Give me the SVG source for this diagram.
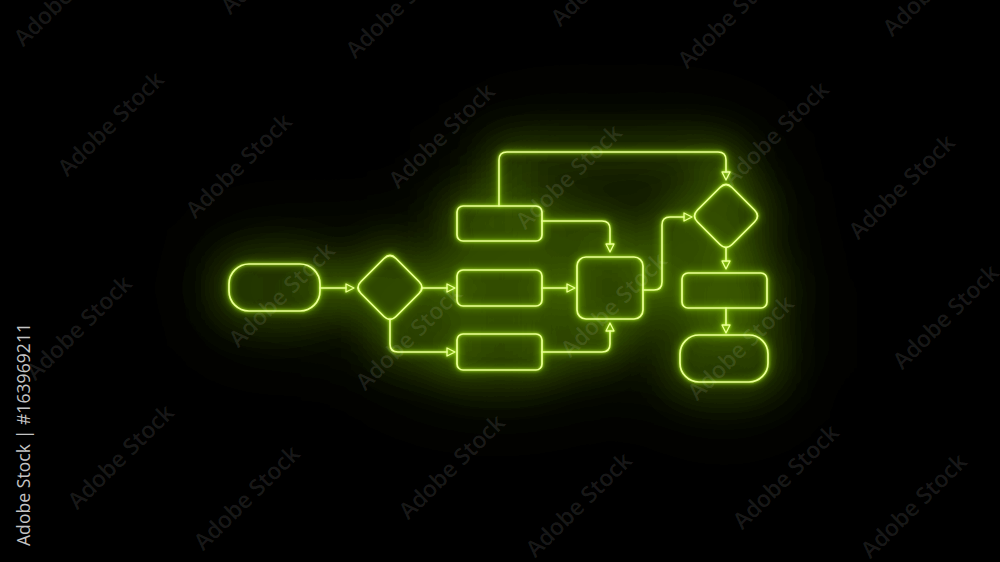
<svg xmlns="http://www.w3.org/2000/svg" width="1000" height="562" viewBox="0 0 1000 562">
  <defs>
    <style>
      .shape { fill: none; stroke: #eaff96; stroke-width: 1.7; stroke-linejoin: round; }
      .conn { fill: none; stroke: #eaff96; stroke-width: 1.6; stroke-linejoin: round; stroke-linecap: round; }
      .wm { font-family: "Open Sans", "Liberation Sans", sans-serif; font-weight: 600; font-size: 23px; fill: #ffffff; fill-opacity: 0.1; }
      .cap { font-family: "Open Sans", "Liberation Sans", sans-serif; font-size: 17.5px; fill: #c4c4c4; }
    </style>
    <marker id="arr" viewBox="-1 -1 10 10" refX="0" refY="4" markerWidth="10" markerHeight="10" markerUnits="userSpaceOnUse" orient="auto">
      <path d="M0,0 L8,4 L0,8 Z" fill="none" stroke="#eaff96" stroke-width="1.3" stroke-linejoin="round"/>
    </marker>
    <filter id="neon" filterUnits="userSpaceOnUse" x="0" y="0" width="1000" height="562" color-interpolation-filters="sRGB">
      <feGaussianBlur in="SourceAlpha" stdDeviation="45" result="f0"/>
      <feComponentTransfer in="f0" result="f1"><feFuncA type="linear" slope="7"/></feComponentTransfer>
      <feFlood flood-color="#3a5800"/>
      <feComposite in2="f1" operator="in" result="far"/>
      <feGaussianBlur in="SourceAlpha" stdDeviation="22" result="h0"/>
      <feComponentTransfer in="h0" result="h1"><feFuncA type="linear" slope="8"/></feComponentTransfer>
      <feFlood flood-color="#5e8e00"/>
      <feComposite in2="h1" operator="in" result="halo"/>
      <feGaussianBlur in="SourceAlpha" stdDeviation="4" result="m0"/>
      <feComponentTransfer in="m0" result="m1"><feFuncA type="linear" slope="1.8"/></feComponentTransfer>
      <feFlood flood-color="#8ad000"/>
      <feComposite in2="m1" operator="in" result="mid"/>
      <feGaussianBlur in="SourceAlpha" stdDeviation="1.6" result="t0"/>
      <feComponentTransfer in="t0" result="t1"><feFuncA type="linear" slope="1.2"/></feComponentTransfer>
      <feFlood flood-color="#b0ee20"/>
      <feComposite in2="t1" operator="in" result="tight"/>
      <feMerge>
        <feMergeNode in="far"/>
        <feMergeNode in="halo"/>
        <feMergeNode in="mid"/>
        <feMergeNode in="tight"/>
        <feMergeNode in="SourceGraphic"/>
      </feMerge>
    </filter>
  </defs>

  <rect x="0" y="0" width="1000" height="562" fill="#000000"/>

  <g filter="url(#neon)">
    <g id="connectors">
      <path class="conn" marker-end="url(#arr)" d="M320,288 L346,288"/>
      <path class="conn" marker-end="url(#arr)" d="M422,288 L447,288"/>
      <path class="conn" marker-end="url(#arr)" d="M390,319 L390,344 Q390,352 398,352 L447,352"/>
      <path class="conn" marker-end="url(#arr)" d="M499,206 L499,160 Q499,152 507,152 L718,152 Q726,152 726,160 L726,172"/>
      <path class="conn" marker-end="url(#arr)" d="M542,221 L602,221 Q610,221 610,229 L610,244"/>
      <path class="conn" marker-end="url(#arr)" d="M542,288 L567,288"/>
      <path class="conn" marker-end="url(#arr)" d="M542,352 L602,352 Q610,352 610,344 L610,331"/>
      <path class="conn" marker-end="url(#arr)" d="M643,290 L654,290 Q662,290 662,282 L662,225 Q662,217 670,217 L684,217"/>
      <path class="conn" marker-end="url(#arr)" d="M726,248 L726,261"/>
      <path class="conn" marker-end="url(#arr)" d="M726,308 L726,325"/>
    </g>
    <g id="start">
      <rect class="shape" x="229" y="264" width="91" height="47" rx="20"/>
    </g>
    <g id="decision1">
      <path class="shape" d="M384,258.5 Q390,252.5 396,258.5 L419,281.5 Q425,287.5 419,293.5 L396,316.5 Q390,322.5 384,316.5 L361,293.5 Q355,287.5 361,281.5 Z"/>
    </g>
    <g id="process-top">
      <rect class="shape" x="457" y="206" width="85" height="35" rx="6"/>
    </g>
    <g id="process-mid">
      <rect class="shape" x="457" y="270" width="85" height="36" rx="6"/>
    </g>
    <g id="process-bottom">
      <rect class="shape" x="457" y="334" width="85" height="36" rx="6"/>
    </g>
    <g id="merge">
      <rect class="shape" x="577" y="257" width="66" height="62" rx="9"/>
    </g>
    <g id="decision2">
      <path class="shape" d="M720,187.5 Q726,181.5 732,187.5 L754.5,210 Q760.5,216 754.5,222 L732,244.5 Q726,250.5 720,244.5 L697.5,222 Q691.5,216 697.5,210 Z"/>
    </g>
    <g id="process-right">
      <rect class="shape" x="682" y="273" width="85" height="35" rx="6"/>
    </g>
    <g id="end">
      <rect class="shape" x="680" y="335" width="88" height="47" rx="19"/>
    </g>
  </g>

  <g id="watermarks">
    <text class="wm" text-anchor="middle" dominant-baseline="central" transform="translate(66,-7) rotate(-44.5)">Adobe Stock</text>
    <text class="wm" text-anchor="middle" dominant-baseline="central" transform="translate(110,123) rotate(-44.5)">Adobe Stock</text>
    <text class="wm" text-anchor="middle" dominant-baseline="central" transform="translate(238,165) rotate(-44.5)">Adobe Stock</text>
    <text class="wm" text-anchor="middle" dominant-baseline="central" transform="translate(273,-39) rotate(-44.5)">Adobe Stock</text>
    <text class="wm" text-anchor="middle" dominant-baseline="central" transform="translate(398,5) rotate(-44.5)">Adobe Stock</text>
    <text class="wm" text-anchor="middle" dominant-baseline="central" transform="translate(441,135) rotate(-44.5)">Adobe Stock</text>
    <text class="wm" text-anchor="middle" dominant-baseline="central" transform="translate(78,327) rotate(-44.5)">Adobe Stock</text>
    <text class="wm" text-anchor="middle" dominant-baseline="central" transform="translate(120,456) rotate(-44.5)">Adobe Stock</text>
    <text class="wm" text-anchor="middle" dominant-baseline="central" transform="translate(246,497) rotate(-44.5)">Adobe Stock</text>
    <text class="wm" text-anchor="middle" dominant-baseline="central" transform="translate(281,294) rotate(-44.5)">Adobe Stock</text>
    <text class="wm" text-anchor="middle" dominant-baseline="central" transform="translate(408,337) rotate(-44.5)">Adobe Stock</text>
    <text class="wm" text-anchor="middle" dominant-baseline="central" transform="translate(451,466) rotate(-44.5)">Adobe Stock</text>
    <text class="wm" text-anchor="middle" dominant-baseline="central" transform="translate(613,304) rotate(-44.5)">Adobe Stock</text>
    <text class="wm" text-anchor="middle" dominant-baseline="central" transform="translate(740,347) rotate(-44.5)">Adobe Stock</text>
    <text class="wm" text-anchor="middle" dominant-baseline="central" transform="translate(578,504) rotate(-44.5)">Adobe Stock</text>
    <text class="wm" text-anchor="middle" dominant-baseline="central" transform="translate(785,476) rotate(-44.5)">Adobe Stock</text>
    <text class="wm" text-anchor="middle" dominant-baseline="central" transform="translate(913,505) rotate(-44.5)">Adobe Stock</text>
    <text class="wm" text-anchor="middle" dominant-baseline="central" transform="translate(945,316) rotate(-44.5)">Adobe Stock</text>
    <text class="wm" text-anchor="middle" dominant-baseline="central" transform="translate(603,-27) rotate(-44.5)">Adobe Stock</text>
    <text class="wm" text-anchor="middle" dominant-baseline="central" transform="translate(730,15) rotate(-44.5)">Adobe Stock</text>
    <text class="wm" text-anchor="middle" dominant-baseline="central" transform="translate(935,-17) rotate(-44.5)">Adobe Stock</text>
    <text class="wm" text-anchor="middle" dominant-baseline="central" transform="translate(568,176) rotate(-44.5)">Adobe Stock</text>
    <text class="wm" text-anchor="middle" dominant-baseline="central" transform="translate(775,133) rotate(-44.5)">Adobe Stock</text>
    <text class="wm" text-anchor="middle" dominant-baseline="central" transform="translate(901,186) rotate(-44.5)">Adobe Stock</text>
  </g>

  <text class="cap" transform="translate(29.5,546) rotate(-90)" textLength="223" lengthAdjust="spacing">Adobe Stock | #163969211</text>
</svg>
